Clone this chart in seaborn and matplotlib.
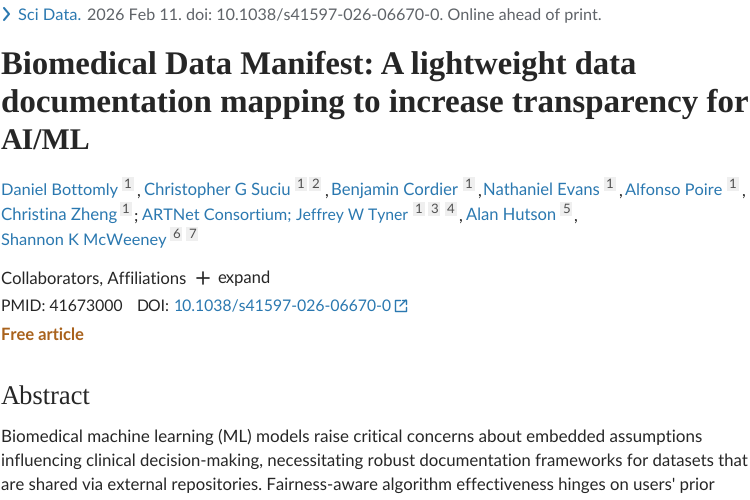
import matplotlib
matplotlib.use('Agg')
import matplotlib.pyplot as plt
import seaborn as sns
from matplotlib.patches import Rectangle

# page text
journal = 'Sci Data.'
citation = '2026 Feb 11. doi: 10.1038/s41597-026-06670-0. Online ahead of print.'
title_lines = ['Biomedical Data Manifest: A lightweight data',
               'documentation mapping to increase transparency for',
               'AI/ML']
authors = ['Daniel Bottomly', 'Christopher G Suciu', 'Benjamin Cordier', 'Nathaniel Evans', 'Alfonso Poire',
           'Christina Zheng', 'ARTNet Consortium;', 'Jeffrey W Tyner', 'Alan Hutson', 'Shannon K McWeeney']
affil_marks = [['1'], ['1', '2'], ['1'], ['1'], ['1'], ['1'], [], ['1', '3', '4'], ['5'], ['6', '7']]
separators = [',', ',', ',', ',', ',', ';', '', ',', ',', '']
collab_label = 'Collaborators, Affiliations'
expand_label = 'expand'
pmid_label = 'PMID: 41673000'
doi_label = 'DOI:'
doi_value = '10.1038/s41597-026-06670-0'
free_label = 'Free article'
abstract_head = 'Abstract'
abstract_lines = ['Biomedical machine learning (ML) models raise critical concerns about embedded assumptions',
                  'influencing clinical decision-making, necessitating robust documentation frameworks for datasets that',
                  "are shared via external repositories. Fairness-aware algorithm effectiveness hinges on users' prior"]

# layout in page pixels
author_x = [1, 144, 331, 483, 625, 1, 142, 296, 466, 1]
author_end = [118, 290, 458, 600, 722, 117, 291, 408, 556, 166]
author_y = [189, 189, 189, 189, 189, 214, 214, 214, 214, 239]
mark_x = [[122], [295, 309], [463], [604], [727], [120], [], [413, 428, 445], [560], [170, 186]]
sep_x = [136, 324, 477, 618, 741, 134, 0, 458, 573, 0]
title_y = [62, 100, 139]
title_end = [636, 748, None]
abstract_y = [435, 460, 484]
abstract_end = [699, 749, 713]

LINK = '#2a78b0'
TEXT = '#262626'
GREY = '#5f6368'
BODY_FONT = 'Lato'
HEAD_FONT = 'Liberation Serif'

sns.set_theme(style='white')
plt.rcParams['font.family'] = [BODY_FONT, 'DejaVu Sans']
plt.rcParams['text.hinting'] = 'no_hinting'

fig = plt.figure(figsize=(7.5, 5), dpi=100)
ax = fig.add_axes([0, 0, 1, 1])
ax.set_xlim(0, 750)
ax.set_ylim(500, 0)
ax.axis('off')
renderer = fig.canvas.get_renderer()


def put(x, y, s, color=TEXT, size=12, end=None, **kw):
    # end is the right edge in the screenshot, font size gets scaled to reach it
    t = ax.text(x, y, s, color=color, fontsize=size, va='center_baseline', ha='left', **kw)
    if end is not None:
        w = t.get_window_extent(renderer).width
        t.set_fontsize(size * (end - x) / w)
    return t


# journal line
ax.plot([4, 9, 4], [8, 14, 20], color=LINK, lw=1.5)
put(18, 14, journal, LINK, end=81)
put(87, 14, citation, GREY, end=601)

# title
for s, y, end in zip(title_lines, title_y, title_end):
    put(1, y, s, TEXT, 21.5, end=end, family=HEAD_FONT, weight='bold')

# authors with affiliation boxes
for i, name in enumerate(authors):
    put(author_x[i], author_y[i], name, LINK, end=author_end[i])
    for mark, mx in zip(affil_marks[i], mark_x[i]):
        ax.add_patch(Rectangle((mx, author_y[i] - 12), 12, 14, color='#efefef', lw=0))
        ax.text(mx + 6, author_y[i] - 5, mark, color='#505050', fontsize=9.5, ha='center', va='center')
    if separators[i]:
        put(sep_x[i], author_y[i], separators[i], TEXT)

# collaborators / ids
put(1, 277, collab_label, TEXT, end=186)
ax.plot([197, 209], [278, 278], color=TEXT, lw=1.2)
ax.plot([203, 203], [272, 284], color=TEXT, lw=1.2)
put(217, 277, expand_label, TEXT, end=270)
put(1, 305, pmid_label, TEXT, end=122)
put(137, 305, doi_label, TEXT, end=170)
put(174, 305, doi_value, LINK, end=391)
ax.plot([400, 395, 395, 406, 406], [300, 300, 311, 311, 307], color=LINK, lw=1)
ax.plot([400, 406], [306, 300], color=LINK, lw=1)
ax.plot([402, 406, 406], [300, 300, 304], color=LINK, lw=1)
put(1, 334, free_label, '#a9621c', end=84, weight='bold')

# abstract
put(1, 395, abstract_head, TEXT, 19.6, end=91, family=HEAD_FONT)
for s, y, end in zip(abstract_lines, abstract_y, abstract_end):
    put(1, y, s, TEXT, end=end)

fig.savefig('out.png', dpi=100)
